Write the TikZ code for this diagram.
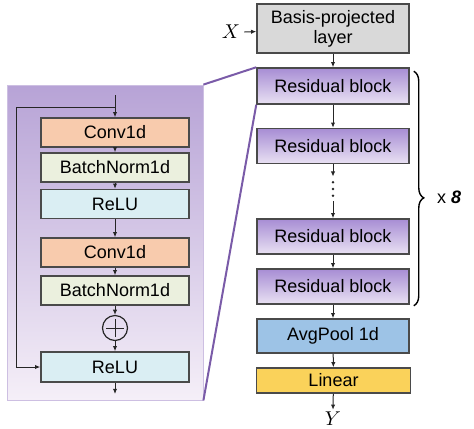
\documentclass[tikz,border=0pt]{standalone}
\usepackage{fontspec}
\setmainfont{Liberation Sans}
\usepackage{tikz}
\usetikzlibrary{arrows.meta}
\usetikzlibrary{positioning}
\usetikzlibrary{decorations.pathreplacing}

\definecolor{boxgray}{HTML}{4A4A4A}
\definecolor{convorange}{HTML}{F8CBAD}
\definecolor{normgreen}{HTML}{EBF0DE}
\definecolor{relublue}{HTML}{DAEEF3}
\definecolor{poolblue}{HTML}{9DC3E6}
\definecolor{linyellow}{HTML}{FAD25A}
\definecolor{basisgray}{HTML}{D9D9D9}
\definecolor{restop}{HTML}{A78DD4}
\definecolor{resbot}{HTML}{E9E1F3}
\definecolor{paneltop}{HTML}{B7A3D6}
\definecolor{panelbot}{HTML}{F5EFF8}
\definecolor{zoomline}{HTML}{7A5BA8}

\begin{document}
\begin{tikzpicture}[x = 0.5pt, y = -0.5pt,
	box/.style = {draw = boxgray, line width = 0.75pt, inner sep = 0pt, align = center,
		font = \fontsize{9}{10}\selectfont},
	inbox/.style = {box, minimum width = 74pt, minimum height = 14.5pt},
	outbox/.style = {box, minimum width = 76pt, minimum height = 17.5pt},
	resbox/.style = {outbox, top color = restop, bottom color = resbot},
	arr/.style = {-{Latex[length = 2.6pt, width = 2.2pt]}, line width = 0.5pt, draw = black!85},
	sumnode/.style = {circle, draw = black!85, line width = 0.6pt, minimum size = 12.5pt, inner sep = 0pt,
		path picture = {
			\draw[line width = 0.4pt] ([xshift = -4.5pt]path picture bounding box.center) -- ([xshift = 4.5pt]path picture bounding box.center);
			\draw[line width = 0.4pt] ([yshift = -4.5pt]path picture bounding box.center) -- ([yshift = 4.5pt]path picture bounding box.center);
		}},
	dotsnode/.style = {minimum width = 2pt, minimum height = 10pt, inner sep = 0pt,
		path picture = {
			\fill[black!85] (path picture bounding box.center) circle (0.7pt);
			\fill[black!85] ([yshift = 3.4pt]path picture bounding box.center) circle (0.7pt);
			\fill[black!85] ([yshift = -3.4pt]path picture bounding box.center) circle (0.7pt);
		}}]
	\useasboundingbox (0, 0) rectangle (474, 428);

	% inside of one residual block
	\node[draw = paneltop!70, line width = 0.4pt, top color = paneltop, bottom color = panelbot,
		minimum width = 98pt, minimum height = 157.5pt, inner sep = 0pt] (panel) at (105, 242.5) {};
	\coordinate (in) at (115, 95);
	\coordinate (split) at (115, 107);
	\coordinate (out) at (115, 394);
	\node[inbox, fill = convorange] (conva) at (115, 132.5) {Conv1d};
	\node[inbox, fill = normgreen] (norma) at (115, 167.5) {BatchNorm1d};
	\node[inbox, fill = relublue] (relua) at (115, 204) {ReLU};
	\node[inbox, fill = convorange] (convb) at (115, 252.5) {Conv1d};
	\node[inbox, fill = normgreen] (normb) at (115, 290.5) {BatchNorm1d};
	\node[sumnode] (sum) at (115, 328) {};
	\node[inbox, fill = relublue, minimum height = 15pt] (relub) at (115, 367) {ReLU};

	\draw[arr] (in) -- (conva);
	\draw[arr] (conva) -- (norma);
	\draw[arr] (norma) -- (relua);
	\draw[arr] (relua) -- (convb);
	\draw[arr] (convb) -- (normb);
	\draw[arr] (normb) -- (sum);
	\draw[arr] (sum) -- (relub);
	\draw[arr] (relub) -- (out);
	\draw[arr] (split) -- ++(-99, 0) |- (relub.west);

	% main network
	\node[outbox, fill = basisgray, minimum height = 24.5pt] (basis) at (333, 28.5) {Basis-projected\\layer};
	\node[resbox, minimum height = 18pt] (resa) at (333, 86) {Residual block};
	\node[resbox] (resb) at (333, 146) {Residual block};
	\node[dotsnode] (dots) at (333, 189) {};
	\node[resbox] (resc) at (333, 236.5) {Residual block};
	\node[resbox] (resd) at (333, 286.5) {Residual block};
	\node[outbox, fill = poolblue, minimum height = 17pt] (pool) at (333, 336) {AvgPool 1d};
	\node[outbox, fill = linyellow, minimum width = 77pt, minimum height = 12.5pt] (lin) at (333.5, 380.5) {Linear};
	\node[inner sep = 0pt, font = \fontsize{10}{10}\selectfont] (xin) at (231, 32) {$X$};
	\node[inner sep = 0pt, font = \fontsize{10}{10}\selectfont] (yout) at (333, 419) {$Y$};

	\draw[arr] ([xshift = 2pt]xin.east) -- (basis);
	\draw[arr] (basis) -- (resa);
	\draw[arr] (resa) -- (resb);
	\draw[arr] (resb) -- ([yshift = 1pt]dots.north);
	\draw[arr] ([yshift = -1pt]dots.south) -- (resc);
	\draw[arr] (resc) -- (resd);
	\draw[arr] (resd) -- (pool);
	\draw[arr] (pool) -- (lin);
	\draw[arr] (lin) -- ([yshift = 1pt]yout.north);

	% zoom lines and repeat brace
	\draw[zoomline, line width = 1pt] (panel.north east) -- (resa.north west);
	\draw[zoomline, line width = 1pt] (panel.south east) -- (resa.south west);
	\draw[line width = 0.7pt, decorate, decoration = {brace, amplitude = 5pt, aspect = 0.54}]
		([xshift = 2pt, yshift = -2pt]resa.north east) -- ([xshift = 2pt, yshift = -0.5pt]resd.south east);
	\node[font = \fontsize{9}{10}\selectfont] (times) at (449, 197) {x \textbf{\textit{8}}};
\end{tikzpicture}
\end{document}
